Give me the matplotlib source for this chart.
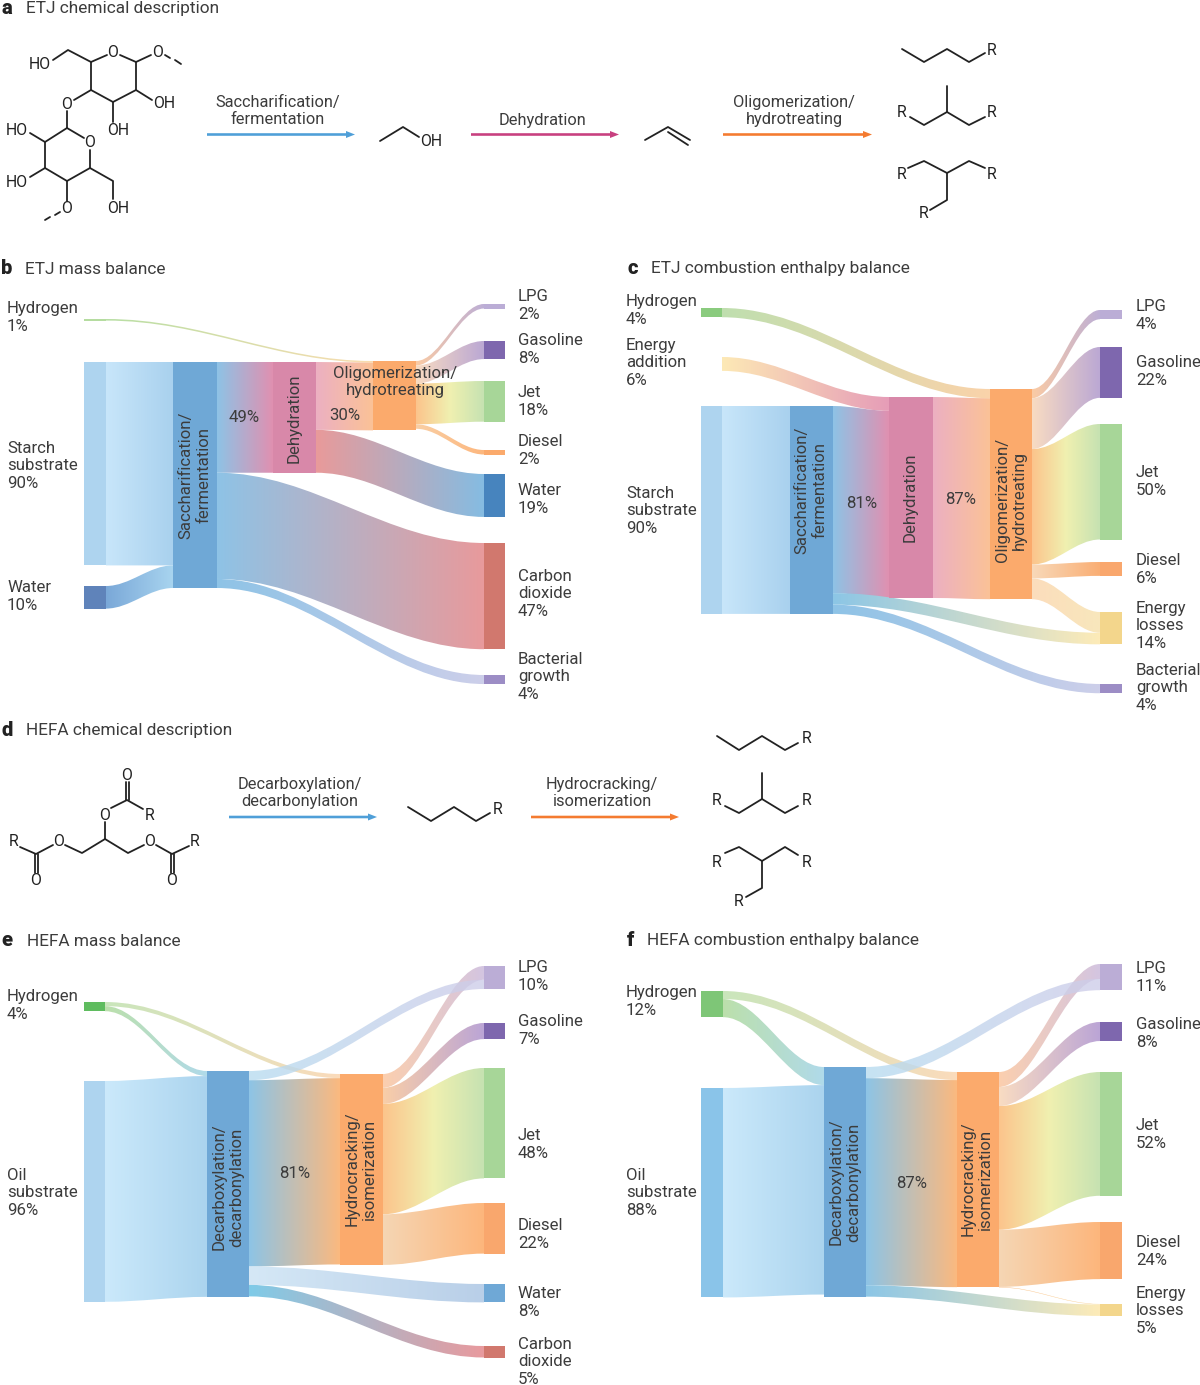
import numpy as np
import matplotlib
matplotlib.use("Agg")
import matplotlib.pyplot as plt
from matplotlib.path import Path
from matplotlib.patches import PathPatch, Rectangle, FancyArrow
from matplotlib.colors import to_rgb

# ------------------------------ data ------------------------------
B_NODES = ["H2", "Starch", "WaterIn", "Sacch", "Dehyd", "Olig", "LPG", "Gas", "Jet", "Diesel", "WaterOut", "CO2", "Bact"]
B_SRC = ["Starch", "WaterIn", "Sacch", "Sacch", "Sacch", "H2", "Dehyd", "Dehyd", "Olig", "Olig", "Olig", "Olig"]
B_TGT = ["Sacch", "Sacch", "Dehyd", "CO2", "Bact", "Olig", "Olig", "WaterOut", "LPG", "Gas", "Jet", "Diesel"]
B_VAL = [90, 10, 49, 47, 4, 0.7, 30, 19, 2, 8, 18, 2]

C_NODES = ["H2", "Energy", "Starch", "Sacch", "Dehyd", "Olig", "LPG", "Gas", "Jet", "Diesel", "Loss", "Bact"]
C_SRC = ["Starch", "Energy", "Sacch", "H2", "Dehyd", "Olig", "Olig", "Olig", "Olig", "Olig", "Sacch", "Sacch"]
C_TGT = ["Sacch", "Dehyd", "Dehyd", "Olig", "Olig", "LPG", "Gas", "Jet", "Diesel", "Loss", "Loss", "Bact"]
C_VAL = [90, 6, 81, 4, 87, 4, 22, 50, 6, 9, 5, 4]

E_NODES = ["H2", "Oil", "Decarb", "Hydro", "LPG", "Gas", "Jet", "Diesel", "Water", "CO2"]
E_SRC = ["H2", "H2", "Oil", "Hydro", "Decarb", "Decarb", "Decarb", "Decarb", "Hydro", "Hydro", "Hydro"]
E_TGT = ["Hydro", "Decarb", "Decarb", "LPG", "LPG", "Hydro", "Water", "CO2", "Gas", "Jet", "Diesel"]
E_VAL = [1.8, 2.2, 96, 6, 4, 81, 8, 5, 7, 48, 22]

F_NODES = ["H2", "Oil", "Decarb", "Hydro", "LPG", "Gas", "Jet", "Diesel", "Loss"]
F_SRC = ["H2", "H2", "Oil", "Hydro", "Decarb", "Decarb", "Hydro", "Hydro", "Hydro", "Hydro", "Decarb"]
F_TGT = ["Hydro", "Decarb", "Decarb", "LPG", "LPG", "Hydro", "Gas", "Jet", "Diesel", "Loss", "Loss"]
F_VAL = [3.4, 7.6, 88, 6.3, 4.7, 87, 8, 52, 24, 0.2, 4.8]

B_LABELS = ["Hydrogen\n1%", "Starch\nsubstrate\n90%", "Water\n10%", "LPG\n2%", "Gasoline\n8%", "Jet\n18%",
            "Diesel\n2%", "Water\n19%", "Carbon\ndioxide\n47%", "Bacterial\ngrowth\n4%"]
C_LABELS = ["Hydrogen\n4%", "Energy\naddition\n6%", "Starch\nsubstrate\n90%", "LPG\n4%", "Gasoline\n22%", "Jet\n50%",
            "Diesel\n6%", "Energy\nlosses\n14%", "Bacterial\ngrowth\n4%"]
E_LABELS = ["Hydrogen\n4%", "Oil\nsubstrate\n96%", "LPG\n10%", "Gasoline\n7%", "Jet\n48%", "Diesel\n22%",
            "Water\n8%", "Carbon\ndioxide\n5%"]
F_LABELS = ["Hydrogen\n12%", "Oil\nsubstrate\n88%", "LPG\n11%", "Gasoline\n8%", "Jet\n52%", "Diesel\n24%",
            "Energy\nlosses\n5%"]

# ------------------------------ style / layout ------------------------------
FONT = "Roboto"
INK = "#3c3c3c"
FS = 12.1
LS = 1.22
CURVE = 0.36
plt.rcParams["font.family"] = [FONT, "DejaVu Sans"]

C_IN, C_SAC, C_DEH, C_OLI = "#AED4EF", "#6FA8D6", "#D888A9", "#FBAA6C"
C_LPG, C_GAS, C_JET, C_DIE = "#BBADD6", "#7E67AE", "#A7D698", "#F9A76D"
C_CO2, C_BAC, C_LOS = "#D1786E", "#9C8DC5", "#F3D68C"

G_FEED = ["#C8E6FA", "#A9D1EE"]
G_S2D = ["#8EC3E6", "#E090B0"]
G_D2O = ["#ECB0C2", "#FBC297"]
G_JET = ["#FCC48C", "#F0F0B0", "#C6E2B2"]
G_CO2 = ["#8EC3E6", "#E89A9C"]
G_BAC = ["#8EC3E6", "#CDCFEA"]
G_O2L = ["#FBCBA4", "#BDAFD6"]
G_O2G = ["#F9DCC2", "#BBA8D4"]

B_LAY = dict(
    x={"H2": (84, 106), "Starch": (84, 106), "WaterIn": (84, 106), "Sacch": (173, 217), "Dehyd": (273, 316),
       "Olig": (373, 416), "LPG": (484, 505), "Gas": (484, 505), "Jet": (484, 505), "Diesel": (484, 505),
       "WaterOut": (484, 505), "CO2": (484, 505), "Bact": (484, 505)},
    y={"H2": 319, "Starch": 362, "WaterIn": 586, "Sacch": 362, "Dehyd": 362, "Olig": 361, "LPG": 304, "Gas": 341,
       "Jet": 381, "Diesel": 450, "WaterOut": 474, "CO2": 543, "Bact": 675},
    col={"H2": "#B5DCA0", "Starch": C_IN, "WaterIn": "#5F83BA", "Sacch": C_SAC, "Dehyd": C_DEH, "Olig": C_OLI,
         "LPG": C_LPG, "Gas": C_GAS, "Jet": C_JET, "Diesel": C_OLI, "WaterOut": "#4784BE", "CO2": C_CO2, "Bact": C_BAC},
    scale=2.26)
B_GRAD = [G_FEED, ["#7AA8D8", "#A8D4EF"], G_S2D, G_CO2, G_BAC, ["#B8DFA4", "#FADDB0"], G_D2O, ["#E99A9A", "#85BCE2"],
          G_O2L, G_O2G, G_JET, ["#F9CFA5", "#FDB77E"]]

C_LAY = dict(
    x={"H2": (701, 722), "Energy": (701, 722), "Starch": (701, 722), "Sacch": (790, 833), "Dehyd": (889, 933),
       "Olig": (990, 1032), "LPG": (1100, 1122), "Gas": (1100, 1122), "Jet": (1100, 1122), "Diesel": (1100, 1122),
       "Loss": (1100, 1122), "Bact": (1100, 1122)},
    y={"H2": 308, "Energy": 357, "Starch": 406, "Sacch": 406, "Dehyd": 397, "Olig": 389, "LPG": 310, "Gas": 347,
       "Jet": 424, "Diesel": 562, "Loss": 612, "Bact": 684},
    col={"H2": "#8ACB7E", "Energy": None, "Starch": C_IN, "Sacch": C_SAC, "Dehyd": C_DEH, "Olig": C_OLI, "LPG": C_LPG,
         "Gas": C_GAS, "Jet": C_JET, "Diesel": C_DIE, "Loss": C_LOS, "Bact": C_BAC},
    scale=2.31)
C_GRAD = [G_FEED, ["#FDE9B5", "#E69DB8"], G_S2D, ["#BFDFAF", "#FAD3AA"], G_D2O, G_O2L, G_O2G, G_JET,
          ["#F8D9B9", "#FAAE74"], ["#FCDDBC", "#F8E7BC"], ["#8CC6E6", "#FDEBB8"], G_BAC]

E_LAY = dict(
    x={"H2": (84, 105), "Oil": (84, 105), "Decarb": (207, 249), "Hydro": (340, 383), "LPG": (484, 505),
       "Gas": (484, 505), "Jet": (484, 505), "Diesel": (484, 505), "Water": (484, 505), "CO2": (484, 505)},
    y={"H2": 1002, "Oil": 1081, "Decarb": 1071, "Hydro": 1074, "LPG": 966, "Gas": 1023, "Jet": 1068, "Diesel": 1203,
       "Water": 1284, "CO2": 1346},
    col={"H2": "#5FBC5F", "Oil": C_IN, "Decarb": C_SAC, "Hydro": C_OLI, "LPG": C_LPG, "Gas": C_GAS, "Jet": C_JET,
         "Diesel": C_DIE, "Water": C_SAC, "CO2": C_CO2},
    scale=2.3)
E_GRAD = [["#BCE0AB", "#FAD3AA"], ["#BCE0AB", "#B0DAEA"], ["#CBE9FB", "#ABD4EE"], ["#FBC39A", "#C9B7DA"],
          ["#B8DCF0", "#CFCDE9"], ["#8DC4E6", "#FBB97F"], ["#D5E8F6", "#B9CFE8"], ["#7FCBE8", "#E89A9E"],
          ["#F9CEA8", "#BBA5D6"], G_JET, ["#F5D6B4", "#FDB67C"]]

F_LAY = dict(
    x={"H2": (701, 723), "Oil": (701, 723), "Decarb": (824, 866), "Hydro": (957, 999), "LPG": (1100, 1122),
       "Gas": (1100, 1122), "Jet": (1100, 1122), "Diesel": (1100, 1122), "Loss": (1100, 1122)},
    y={"H2": 991, "Oil": 1088, "Decarb": 1067, "Hydro": 1072, "LPG": 964, "Gas": 1022, "Jet": 1072, "Diesel": 1222,
       "Loss": 1304},
    col={"H2": "#7EC677", "Oil": "#8AC4E9", "Decarb": C_SAC, "Hydro": C_OLI, "LPG": C_LPG, "Gas": C_GAS, "Jet": C_JET,
         "Diesel": C_DIE, "Loss": C_LOS},
    scale=2.38)
F_GRAD = [["#BCE0AB", "#FAD3AA"], ["#BCE0AB", "#B0DAEA"], ["#CBE9FB", "#ABD4EE"], ["#FBC39A", "#C9B7DA"],
          ["#B8DCF0", "#CFCDE9"], ["#8DC4E6", "#FBB97F"], ["#F9DCC2", "#BBA5D6"], G_JET,
          ["#F5D6B4", "#FDB67C"], ["#FBC08A", "#F9D9A0"], ["#8CC6E6", "#FDEBB8"]]

CROSSING = {("Hydro", "LPG"), ("Decarb", "LPG"), ("H2", "Hydro")}

fig = plt.figure(figsize=(12.0, 13.85), dpi=100)
ax = fig.add_axes([0, 0, 1, 1])
ax.set_xlim(0, 1200)
ax.set_ylim(1385, 0)
ax.axis("off")
ax.autoscale(False)


def ribbon(x0, y0, x1, y1, th, stops, alpha, z):
    c0 = x0 + CURVE * (x1 - x0)
    c1 = x1 - CURVE * (x1 - x0)
    verts = [(x0, y0), (c0, y0), (c1, y1), (x1, y1), (x1, y1 + th), (c1, y1 + th), (c0, y0 + th), (x0, y0 + th), (x0, y0)]
    codes = [Path.MOVETO, Path.CURVE4, Path.CURVE4, Path.CURVE4, Path.LINETO, Path.CURVE4, Path.CURVE4, Path.CURVE4, Path.CLOSEPOLY]
    patch = PathPatch(Path(verts, codes), fc="none", ec="none", transform=ax.transData)
    ax.add_patch(patch)
    rgb = np.array([to_rgb(c) for c in stops])
    t = np.linspace(0, 1, 256)
    pos = np.linspace(0, 1, len(stops))
    img = np.stack([np.interp(t, pos, rgb[:, k]) for k in range(3)] + [np.full(256, alpha)], axis=1)[None, :, :]
    top, bot = min(y0, y1) - 1, max(y0, y1) + th + 1
    im = ax.imshow(img, extent=(x0, x1, bot, top), aspect="auto", interpolation="bilinear", zorder=z)
    im.set_clip_path(patch)


def sankey(nodes, src, tgt, val, grad, lay):
    s = lay["scale"]
    used_out = {n: 0.0 for n in nodes}
    used_in = {n: 0.0 for n in nodes}
    for i, (a, b, v) in enumerate(zip(src, tgt, val)):
        th = v * s
        x0 = lay["x"][a][1]
        x1 = lay["x"][b][0]
        y0 = lay["y"][a] + used_out[a]
        y1 = lay["y"][b] + used_in[b]
        used_out[a] += th
        used_in[b] += th
        alpha = 0.8 if (a, b) in CROSSING else 1.0
        ribbon(x0, y0, x1, y1, th, grad[i], alpha, 2 + i * 0.01)
    for n in nodes:
        c = lay["col"][n]
        if c is None:
            continue
        xa, xb = lay["x"][n]
        h = max(used_in[n], used_out[n])
        ax.add_patch(Rectangle((xa, lay["y"][n]), xb - xa, h, fc=c, ec="none", zorder=3))


sankey(B_NODES, B_SRC, B_TGT, B_VAL, B_GRAD, B_LAY)
sankey(C_NODES, C_SRC, C_TGT, C_VAL, C_GRAD, C_LAY)
sankey(E_NODES, E_SRC, E_TGT, E_VAL, E_GRAD, E_LAY)
sankey(F_NODES, F_SRC, F_TGT, F_VAL, F_GRAD, F_LAY)


def label(x, y, s, ha="left", rot=0, fs=FS):
    ax.text(x, y, s, ha=ha, va="center", rotation=rot, rotation_mode="anchor" if rot == 0 else "default",
            fontsize=fs, color=INK, linespacing=LS, zorder=6, multialignment="center" if ha == "center" else "left")


def column(x, ys, labels):
    for y, s in zip(ys, labels):
        label(x, y + 0.7, s)


L, R = 7, 518
L2, R2 = 626, 1136
column(L, [317, 465, 596], B_LABELS[:3])
column(R, [305, 349, 401, 450, 499, 593, 676], B_LABELS[3:])
column(L2, [310, 362, 510], C_LABELS[:3])
column(R2, [315, 371, 481, 569, 625, 687], C_LABELS[3:])
column(L, [1005, 1192], E_LABELS[:2])
column(R, [976, 1030, 1144, 1234, 1302, 1361], E_LABELS[2:])
column(L2, [1001, 1192], F_LABELS[:2])
column(R2, [977, 1033, 1134, 1251, 1310], F_LABELS[2:])

# text inside the flows
SAC = "Saccharification/\nfermentation"
OLI = "Oligomerization/\nhydrotreating"
DEC = "Decarboxylation/\ndecarbonylation"
HYD = "Hydrocracking/\nisomerization"
label(195, 475, SAC, "center", 90)
label(294, 418, "Dehydration", "center", 90)
label(395, 382, OLI, "center")
label(244, 418, "49%", "center")
label(345, 416, "30%", "center")
label(811, 490, SAC, "center", 90)
label(910, 497, "Dehydration", "center", 90)
label(1011, 500, OLI, "center", 90)
label(862, 504, "81%", "center")
label(961, 500, "87%", "center")
label(228, 1187, DEC, "center", 90)
label(361, 1169, HYD, "center", 90)
label(295, 1173, "81%", "center")
label(845, 1182, DEC, "center", 90)
label(977, 1179, HYD, "center", 90)
label(912, 1184, "87%", "center")

# panel titles
for x, tx, y, letter, title in [
    (1, 26, 9, "a", "ETJ chemical description"), (1, 25, 269, "b", "ETJ mass balance"),
    (627, 651, 269, "c", "ETJ combustion enthalpy balance"), (1, 26, 731, "d", "HEFA chemical description"),
    (1, 27, 941, "e", "HEFA mass balance"), (627, 647, 941, "f", "HEFA combustion enthalpy balance")]:
    ax.text(x, y, letter, fontsize=14.5, fontweight="black", color="#222222", va="center", ha="left", zorder=6)
    ax.text(tx, y, title, fontsize=12.45, color=INK, va="center", ha="left", zorder=6)


# chemical structures
def bond(*pts, **kw):
    xs, ys = zip(*pts)
    ax.plot(xs, ys, color="#222222", lw=kw.get("lw", 1.3), ls=kw.get("ls", "-"), solid_capstyle="round", zorder=4)


def atom(x, y, s):
    ax.text(x, y + 0.7, s, ha="center", va="center", fontsize=11.4, color="#222222", zorder=5)


def arrow(x0, x1, y, c):
    ax.add_patch(FancyArrow(x0, y, x1 - x0, 0, width=2.6, head_width=7, head_length=9, length_includes_head=True,
                            fc=c, ec="none", zorder=4))


# a: starch
bond((107, 55), (91, 62), (91, 90), (113, 102), (136, 90), (136, 62), (120, 55))
atom(113, 52, "O")
bond((91, 62), (68, 50), (53, 60))
atom(40, 64, "HO")
bond((136, 62), (151, 55)); atom(158, 52, "O")
bond((165, 55), (170, 58)); bond((175, 60), (181, 64))
bond((136, 90), (152, 100)); atom(164, 103, "OH")
bond((113, 102), (113, 122)); atom(118, 130, "OH")
bond((91, 90), (74, 100)); atom(67, 104, "O")
bond((67, 111), (67, 128))
bond((67, 128), (84, 138))
bond((90, 150), (90, 168), (67, 181), (45, 168), (45, 142), (67, 128))
atom(90, 142, "O")
bond((45, 142), (30, 133)); atom(17, 130, "HO")
bond((45, 168), (30, 177)); atom(17, 182, "HO")
bond((67, 181), (67, 201)); atom(67, 208, "O")
bond((60, 212), (55, 215)); bond((50, 217), (45, 220))
bond((90, 168), (113, 181), (113, 199)); atom(118, 208, "OH")
# ethanol / propene
bond((380, 141), (403, 127), (419, 137)); atom(431, 141, "OH")
bond((645, 140), (668, 127), (690, 140))
bond((668, 132), (688, 145))

# a: products
bond((902, 49), (924, 62), (947, 49), (969, 62), (985, 53)); atom(992, 50, "R")
atom(902, 112, "R"); atom(992, 112, "R")
bond((910, 117), (924, 125), (947, 112), (969, 125), (985, 117))
bond((947, 112), (947, 86))
atom(902, 174, "R"); atom(992, 174, "R"); atom(924, 213, "R")
bond((908, 168), (924, 161), (947, 173), (969, 161), (985, 168))
bond((947, 173), (947, 200), (930, 210))
arrow(207, 355, 134.5, "#4F9FD8")
arrow(471, 619, 134.5, "#C8407F")
arrow(723, 872, 134.5, "#F47B30")
label(278, 111, SAC, "center", fs=11.8)
label(542, 120, "Dehydration", "center", fs=11.8)
label(794, 111, OLI, "center", fs=11.8)

# d: triglyceride
atom(14, 841, "R"); atom(59, 841, "O"); atom(150, 841, "O"); atom(195, 841, "R")
atom(36, 880, "O"); atom(172, 880, "O"); atom(105, 815, "O"); atom(127, 775, "O"); atom(150, 815, "R")
bond((20, 847), (36, 854), (53, 845))
bond((65, 845), (82, 853), (105, 839), (128, 853), (144, 845))
bond((156, 845), (172, 854), (189, 846))
bond((105, 839), (105, 822))
bond((111, 808), (127, 800), (143, 809))
bond((35, 854), (35, 873)); bond((38, 854), (38, 873))
bond((171, 854), (171, 873)); bond((174, 854), (174, 873))
bond((126, 800), (126, 782)); bond((129, 800), (129, 782))
arrow(229, 377, 817, "#4F9FD8")
arrow(531, 679, 817, "#F47B30")
label(300, 793, DEC, "center", fs=11.8)
label(602, 793, HYD, "center", fs=11.8)
bond((408, 807), (431, 821), (454, 807), (476, 821), (490, 813)); atom(498, 809, "R")
# d: products
bond((717, 736), (739, 750), (762, 736), (785, 750), (798, 743)); atom(807, 738, "R")
atom(717, 800, "R"); atom(807, 800, "R")
bond((725, 806), (739, 813), (762, 799), (785, 813), (798, 806))
bond((762, 799), (762, 773))
atom(717, 862, "R"); atom(807, 862, "R"); atom(739, 901, "R")
bond((725, 853), (739, 847), (762, 861), (785, 847), (798, 855))
bond((762, 861), (762, 888), (746, 897))

fig.savefig("out.png", dpi=100, facecolor="white")
